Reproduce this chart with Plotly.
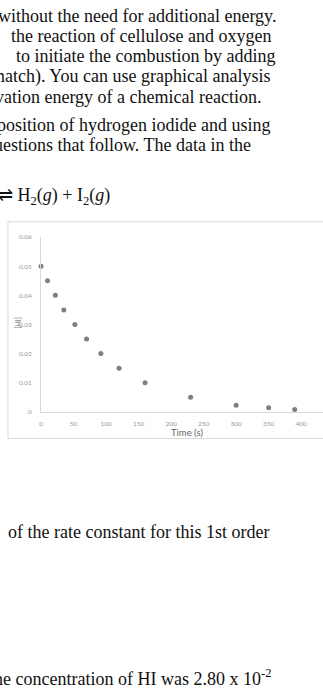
import plotly.graph_objects as go

# ---- data ----
time_s = [0, 10, 22, 35, 52, 70, 92, 120, 160, 230, 300, 350, 390]
hi_conc = [0.050, 0.045, 0.040, 0.035, 0.030, 0.025, 0.020, 0.015, 0.010, 0.005, 0.0023, 0.0014, 0.0008]
x_ticks = [0, 50, 100, 150, 200, 250, 300, 350, 400]
x_tick_text = ["0", "50", "100", "150", "200", "250", "300", "350", "400"]
y_ticks = [0, 0.01, 0.02, 0.03, 0.04, 0.05, 0.06]
y_tick_text = ["0", "0.01", "0.02", "0.03", "0.04", "0.05", "0.06"]

W, H = 323, 694

def px(x):
    return x / W

def py(y):
    return 1 - y / H

fig = go.Figure()
fig.add_trace(go.Scatter(
    x=time_s, y=hi_conc, mode="markers",
    marker=dict(size=5, color="#7f7f7f"),
    cliponaxis=False, showlegend=False, hoverinfo="skip",
))

x0_px, x_scale = 39.3, 0.6543
tick_font = dict(family="Lato", size=6.5, color="#999999")
fig.update_layout(
    width=W, height=H,
    margin=dict(l=0, r=0, t=0, b=0),
    paper_bgcolor="white", plot_bgcolor="white",
    showlegend=False,
    xaxis=dict(
        domain=[px(x0_px), 1],
        range=[0, (W - x0_px) / x_scale],
        tickvals=x_ticks, ticktext=x_tick_text,
        showgrid=False, zeroline=False,
        showline=True, linecolor="#d9d9d9", linewidth=1,
        ticks="", ticklabelstandoff=5,
        tickfont=tick_font,
    ),
    yaxis=dict(
        domain=[py(412), py(235.5)],
        range=[0, 0.06],
        tickvals=y_ticks, ticktext=y_tick_text,
        showgrid=False, zeroline=False,
        showline=True, linecolor="#d9d9d9", linewidth=1,
        ticks="", ticklabelstandoff=7,
        tickfont=tick_font,
    ),
)

# chart border
fig.add_shape(type="rect", xref="paper", yref="paper",
              x0=px(6), x1=px(340), y0=py(439), y1=py(220),
              line=dict(color="#d9d9d9", width=1), layer="below")

# axis titles
fig.add_annotation(text="Time (s)", xref="paper", yref="paper",
                   x=px(186.5), y=py(432.5), xanchor="center", yanchor="middle",
                   showarrow=False, font=dict(family="Lato", size=9.5, color="#666666"))
fig.add_annotation(text="[HI]", xref="paper", yref="paper", textangle=-90,
                   x=px(16), y=py(322), xanchor="center", yanchor="middle",
                   showarrow=False, font=dict(family="Lato", size=7, color="#777777"))

serif = dict(family="Liberation Serif", size=18, color="#111111")

lines = [
    ("without the need for additional energy.", -5, 18.3, "left"),
    ("the reaction of cellulose and oxygen", 8, 38.3, "left"),
    ("to initiate the combustion by adding", 13, 58.8, "left"),
    ("match). You can use graphical analysis", -12, 79.5, "left"),
    ("activation energy of a chemical reaction.", -34, 100.5, "left"),
    ("decomposition of hydrogen iodide and using", -54, 128, "left"),
    ("questions that follow. The data in the", -18, 149, "left"),
    ("\u21cc H<sub>2</sub>(<i>g</i>) + I<sub>2</sub>(<i>g</i>)", 110, 200.7, "right"),
    ("of the rate constant for this 1st order", 5, 539, "left"),
    ("the concentration of HI was 2.80 x 10<sup>-2</sup>", -14, 686.7, "left"),
]
for text, x, baseline, anchor in lines:
    fig.add_annotation(text=text, xref="paper", yref="paper",
                       x=px(x), y=py(baseline - 6.1), xanchor=anchor, yanchor="middle",
                       showarrow=False, font=serif, borderpad=0)

fig.write_html("out.html")
